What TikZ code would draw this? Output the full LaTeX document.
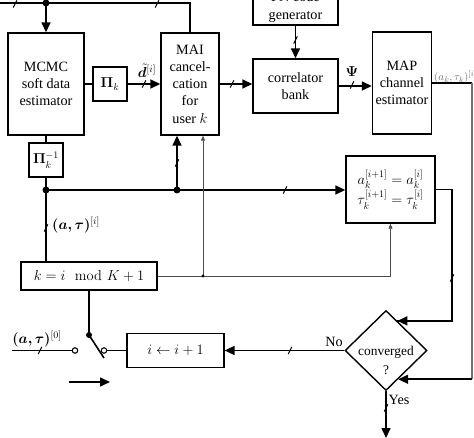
\documentclass[tikz,border=0pt]{standalone}
\usepackage{amsmath,bm}
\usepackage[no-math]{fontspec}
\setmainfont{Liberation Serif}
\usetikzlibrary{shapes.geometric,arrows.meta}
\newcommand\tickat[1]{\draw[line width=1.1pt] ([shift={(-1.8pt,-3.6pt)}]#1) -- ([shift={(1.8pt,3.6pt)}]#1);}
\begin{document}
\begin{tikzpicture}[x=1pt,y=-1pt,
  font=\fontsize{14.2}{17.3}\selectfont,
  box/.style={draw, line width=1.4pt, inner sep=0pt, align=center},
  conn/.style={line width=1.6pt},
  arr/.style={conn, -{Triangle[length=10pt,width=9pt]}},
  thinl/.style={line width=0.7pt, black!70},
  tarr/.style={thinl, -{Triangle[length=5pt,width=4pt]}},
  contact/.style={circle, draw, fill=white, inner sep=0pt, minimum size=5.5pt, line width=1.1pt}]
\useasboundingbox (0,0) rectangle (474,438);
% blocks
\node[box, minimum width=76pt, minimum height=102pt] (mcmc) at (46,84) {MCMC\\soft data\\estimator};
\node[box, minimum size=34pt] (pik) at (110,84) {$\bm{\Pi}_k$};
\node[box, minimum width=58pt, minimum height=102pt] (mai) at (190,84) {MAI\\cancel-\\cation\\for\\user $k$};
\node[box, minimum width=85pt, minimum height=36pt] (pn) at (295.5,7) {PN code\\generator};
\node[box, minimum width=85pt, minimum height=54pt] (corr) at (295.5,86) {correlator\\bank};
\node[box, minimum width=59pt, minimum height=102pt] (map) at (402,83) {MAP\\channel\\estimator};
\node[box, minimum size=34pt] (piinv) at (46,160) {$\bm{\Pi}_k^{-1}$};
\node[box, minimum width=89pt, minimum height=67pt] (upd) at (390.5,189.5) {$a_k^{[i+1]} = a_k^{[i]}$\\[0pt]$\tau_k^{[i+1]} = \tau_k^{[i]}$};
\node[box, minimum width=136pt, minimum height=28pt] (kbox) at (89,276) {$k = i \mod K+1$};
\node[box, minimum width=97pt, minimum height=34pt, line width=1.2pt] (ibox) at (175.5,350.5) {$i \leftarrow i+1$};
\node[draw, diamond, line width=1.4pt, minimum width=82pt, minimum height=80pt, inner sep=0pt] (conv) at (386,350.5) {};
\node[align=center, font=\fontsize{13.4}{19}\selectfont] (convtxt) at (386,360) {converged\\?};
% coordinates
\coordinate (topL) at (0,3);
\coordinate (topdot) at (46,3);
\coordinate (topR) at (190,3);
\coordinate (mapR) at (472,83);
\coordinate (updR) at (452,189.5);
\coordinate (dot1) at (46,190);
\coordinate (dot2) at (177,190);
\coordinate (dot3) at (203,276);
\coordinate (piv) at (89,335);
\coordinate (bladeEnd) at (104,358);
\coordinate (inL) at (12,350.5);
\coordinate (outB) at (386,438);
\coordinate (dirA) at (69,382);
\coordinate (dirB) at (110,382);
\node[contact] (cL) at (75,350.5) {};
% connectors
\draw[conn] (topL) -- (topR) -- (mai.north);
\draw[arr] (topdot) -- (mcmc.north);
\fill (topdot) circle (3.5pt);
\draw[conn] (mcmc) -- (pik);
\draw[arr] (pik) -- (mai);
\draw[arr] (mai.east) -- (mai.east -| corr.west);
\draw[arr] (pn) -- (corr);
\draw[arr] (corr.east) -- (corr.east -| map.west);
\draw[conn] (map.east) -- (mapR);
\draw[line width=1.8pt, black!55] (mapR) -- (mapR |- conv.-67);
\draw[arr] (mapR |- conv.-67) -- (conv.-67);
\draw[conn] (mcmc.south) -- (piinv.north);
\draw[conn] (piinv.south) -- (dot1);
\draw[arr] (dot1) -- (dot1 -| upd.west);
\draw[arr] (dot2) -- (dot2 |- mai.south);
\draw[conn] (dot1) -- (dot1 |- kbox.north);
\fill (dot1) circle (3.5pt);
\fill (dot2) circle (3.5pt);
\draw[tarr] (kbox.east) -| (upd.south);
\draw[tarr] (dot3) -- (dot3 |- mai.south);
\fill (dot3) circle (1.6pt);
\draw[conn] (upd.east) -- (updR) |- (conv.69);
\draw[-{Triangle[length=10pt,width=9pt]}, line width=1.6pt] (conv.69) ++(14pt,0) -- (conv.69);
\draw[conn] (kbox.south) -- (piv);
\draw[conn] (piv) -- (bladeEnd);
\fill (piv) circle (3pt);
\draw[conn] (inL) -- (cL);
\node[contact] (cR) at (104,350.5) {};
\draw[conn] (cR) -- (ibox.west);
\draw[arr] (conv.west) -- (ibox.east);
\draw[arr] (conv.south) -- (outB);
\draw[arr] (dirA) -- (dirB);
% ticks
\coordinate (t1) at (15,4);
\coordinate (t2) at (157,4);
\coordinate (t3) at (144,84);
\coordinate (t4) at (232,84);
\coordinate (t5) at (295.5,40);
\coordinate (t6) at (352,85);
\coordinate (t7) at (285,190);
\coordinate (t8) at (177,163);
\coordinate (t9) at (46,228);
\coordinate (t10) at (452,278);
\coordinate (t11) at (40,350.5);
\coordinate (t12) at (290,350.5);
\coordinate (t13) at (386,408);
\foreach \t in {t1,t2,t3,t4,t5,t6,t7,t8,t9,t10,t11,t12,t13} {\tickat{\t}}
% labels
\node (dlabel) at (147,71) {$\tilde{\bm d}^{[i]}$};
\node (psilabel) at (352,72) {$\bm\Psi$};
\node[anchor=west, text=black!55, font=\fontsize{11}{13}\selectfont, inner sep=1pt] (aklabel) at (433,77) {$(a_k,\tau_k)^{[i]}$};
\node[anchor=west, inner sep=0pt] (ailabel) at (52,225) {$\bm{(a,\tau)}^{[i]}$};
\node[inner sep=0pt] (a0label) at (37,339) {$\bm{(a,\tau)}^{[0]}$};
\node[inner sep=0pt] (nolabel) at (334,342) {No};
\node[inner sep=0pt] (yeslabel) at (399,400) {Yes};
\end{tikzpicture}
\end{document}
